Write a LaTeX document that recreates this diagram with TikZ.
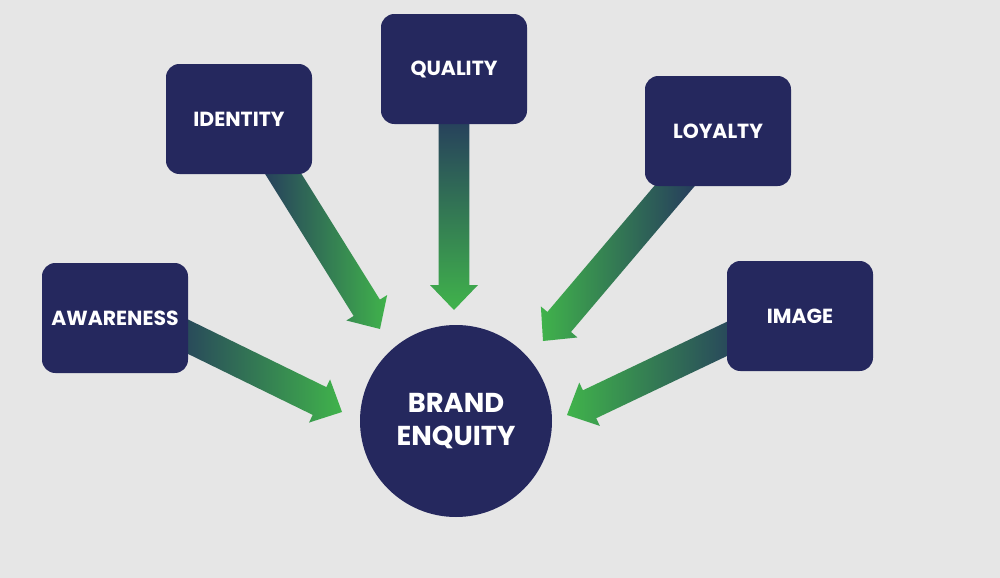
\documentclass[tikz,border=0pt]{standalone}
\usepackage{fontspec}
\setmainfont{Poppins}
\usetikzlibrary{calc}
\definecolor{bg}{HTML}{E6E6E6}
\definecolor{navy}{HTML}{25285E}
\definecolor{dk}{HTML}{24345E}
\definecolor{gr}{HTML}{40B34B}
\def\sw{11.6pt}
\def\hw{18pt}
\def\hl{18.75pt}
\newcommand{\garrow}[3]{%
  \coordinate (gb) at ($(#2)!\hl!(#1)$);
  \path[#3] ($(#1)!\sw!90:(#2)$) -- ($(gb)!\sw!90:(#2)$) -- ($(gb)!\hw!90:(#2)$) -- (#2)
    -- ($(gb)!\hw!-90:(#2)$) -- ($(gb)!\sw!-90:(#2)$) -- ($(#1)!\sw!-90:(#2)$) -- cycle;
}
\tikzset{
  box/.style={fill=navy, rounded corners=10pt, minimum width=109.5pt, minimum height=82.5pt,
    text=white, font=\fontsize{15.3}{18}\selectfont\bfseries, inner sep=0pt},
  hub/.style={circle, fill=navy, minimum size=144pt, inner sep=0pt, text=white, align=center,
    font=\fontsize{20.5}{25}\selectfont\bfseries},
  tor/.style={left color=dk, right color=gr},
  tol/.style={left color=gr, right color=dk},
  tod/.style={top color=dk, bottom color=gr}
}
\begin{document}
\begin{tikzpicture}[x=0.75pt,y=-0.75pt]
\fill[bg] (0,0) rectangle (1000,578);
\useasboundingbox (0,0) rectangle (1000,578);
% arrow end points
\coordinate (s1) at (160,323); \coordinate (t1) at (342,412);
\coordinate (s2) at (264,143); \coordinate (t2) at (380,329);
\coordinate (s3) at (454,100); \coordinate (t3) at (454,310);
\coordinate (s4) at (694,163); \coordinate (t4) at (543,341);
\coordinate (s5) at (754,326); \coordinate (t5) at (567,415);
\garrow{s1}{t1}{tor}
\garrow{s2}{t2}{tor}
\garrow{s3}{t3}{tod}
\garrow{s4}{t4}{tol}
\garrow{s5}{t5}{tol}
% boxes
\node[box] (aw) at (115,318) {AWARENESS};
\node[box] (id) at (239,119) {IDENTITY};
\node[box] (qu) at (454,69) {QUALITY};
\node[box] (lo) at (718,131) {LOYALTY};
\node[box] (im) at (800,316) {IMAGE};
\node[hub] (be) at (456,421) {BRAND\\ENQUITY};
\end{tikzpicture}
\end{document}
